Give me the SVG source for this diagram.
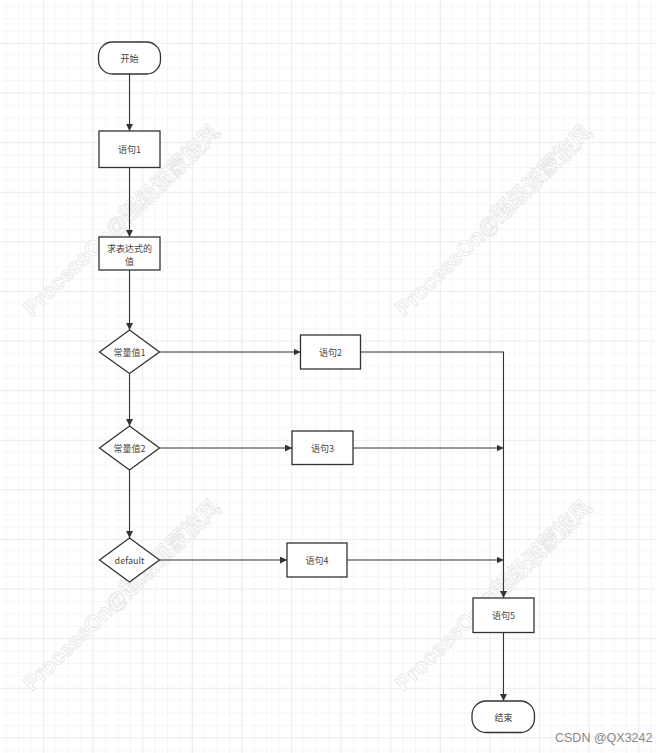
<svg xmlns="http://www.w3.org/2000/svg" width="656" height="753" viewBox="0 0 656 753">
<defs>
<pattern id="minor" x="-6.6" y="-6.6" width="12.4" height="12.4" patternUnits="userSpaceOnUse">
<path d="M0 0H12.4M0 0V12.4" fill="none" stroke="#eeeeee" stroke-width="1"/>
</pattern>
<pattern id="major" x="-6.6" y="-6.6" width="49.6" height="49.6" patternUnits="userSpaceOnUse">
<path d="M0 0H49.6M0 0V49.6" fill="none" stroke="#e4e4e4" stroke-width="1"/>
</pattern>
<marker id="arr" markerWidth="8" markerHeight="8" refX="7" refY="3.5" orient="auto" markerUnits="userSpaceOnUse">
<path d="M0 0L7 3.5L0 7Z" fill="#333"/>
</marker>
<style>
.n{fill:#fff;stroke:#333;stroke-width:1.3}
.t{font-family:"Noto Sans CJK SC","Liberation Sans",sans-serif;font-size:9px;fill:#444;text-anchor:middle;dominant-baseline:central}
.c{fill:none;stroke:#333;stroke-width:1.1}
.wm{font-family:"Liberation Sans","Noto Sans CJK SC",sans-serif;font-size:21.5px;font-weight:bold;fill:#fff;stroke:#e6e6e6;stroke-width:0.8}
</style>
</defs>
<rect width="656" height="753" fill="#fff"/>
<rect width="656" height="753" fill="url(#minor)"/>
<rect width="656" height="753" fill="url(#major)"/>
<g id="watermarks">
<text class="wm" transform="translate(32,317) rotate(-44)">ProcessOn@超级派蒙旋风</text>
<text class="wm" transform="translate(404,317) rotate(-44)">ProcessOn@超级派蒙旋风</text>
<text class="wm" transform="translate(32,692) rotate(-44)">ProcessOn@超级派蒙旋风</text>
<text class="wm" transform="translate(404,692) rotate(-44)">ProcessOn@超级派蒙旋风</text>
</g>
<g id="connectors">
<path class="c" d="M129.5 74V131" marker-end="url(#arr)"/>
<path class="c" d="M129.5 167.5V237" marker-end="url(#arr)"/>
<path class="c" d="M129.5 270V330" marker-end="url(#arr)"/>
<path class="c" d="M159.5 352H300.5" marker-end="url(#arr)"/>
<path class="c" d="M129.5 373.5V426" marker-end="url(#arr)"/>
<path class="c" d="M159.5 448H292" marker-end="url(#arr)"/>
<path class="c" d="M129.5 470V538" marker-end="url(#arr)"/>
<path class="c" d="M159.5 560H287" marker-end="url(#arr)"/>
<path class="c" d="M360.5 352H503.5V598" marker-end="url(#arr)"/>
<path class="c" d="M353 448H503.5" marker-end="url(#arr)"/>
<path class="c" d="M347 560H503.5" marker-end="url(#arr)"/>
<path class="c" d="M503.5 632.5V701" marker-end="url(#arr)"/>
</g>
<g id="start"><rect class="n" x="98.5" y="42" width="62" height="32" rx="14"/><text class="t" x="129.5" y="58">开始</text></g>
<g id="s1"><rect class="n" x="99" y="131" width="61" height="36.5"/><text class="t" x="129.5" y="149">语句1</text></g>
<g id="expr"><rect class="n" x="99" y="237" width="61" height="33"/><text class="t" x="129.5" y="248">求表达式的</text><text class="t" x="129.5" y="261">值</text></g>
<g id="d1"><path class="n" d="M129.5 330L159.5 352L129.5 373.5L99.5 352Z"/><text class="t" x="129.5" y="352">常量值1</text></g>
<g id="s2"><rect class="n" x="300.5" y="335" width="60" height="34"/><text class="t" x="330.5" y="352">语句2</text></g>
<g id="d2"><path class="n" d="M129.5 426L159.5 448L129.5 470L99.5 448Z"/><text class="t" x="129.5" y="448">常量值2</text></g>
<g id="s3"><rect class="n" x="292" y="431" width="61" height="33.5"/><text class="t" x="322.5" y="448">语句3</text></g>
<g id="d3"><path class="n" d="M129.5 538L159.5 560L129.5 582L99.5 560Z"/><text class="t" x="129.5" y="560">default</text></g>
<g id="s4"><rect class="n" x="287" y="543" width="60" height="34"/><text class="t" x="317" y="560">语句4</text></g>
<g id="s5"><rect class="n" x="473" y="598" width="61" height="34.5"/><text class="t" x="503.5" y="615">语句5</text></g>
<g id="end"><rect class="n" x="472" y="701" width="62.5" height="31.5" rx="14"/><text class="t" x="503.5" y="717">结束</text></g>
<text x="555" y="742" font-family="Liberation Sans,sans-serif" font-size="12.5" fill="#888">CSDN @QX3242</text>
</svg>
